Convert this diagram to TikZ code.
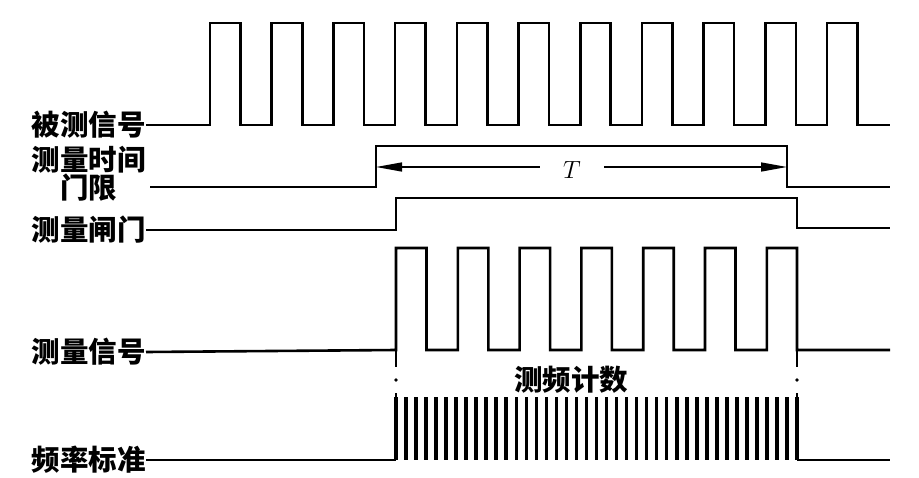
\documentclass[tikz,border=0pt]{standalone}
\usepackage{fontspec}
\newfontfamily\cjk{Noto Sans CJK SC}
\usetikzlibrary{arrows.meta,positioning}
\tikzset
{
    siglabel/.style = {anchor=east, inner sep=0pt, align=center, font=\cjk\bfseries\fontsize{28.5}{28}\selectfont},
    wave/.style     = {line width=2.6pt, line join=miter},
    gatemark/.style = {line width=2.2pt},
    tickbar/.style  = {line width=3.6pt},
    dimarrow/.style = {line width=1.4pt, -{Triangle[length=26pt,width=9pt]}}
}

\begin{document}
\begin{tikzpicture}[x=1pt,y=-1pt]
\useasboundingbox (0,0) rectangle (919,477);
\node [siglabel] at (146,125) (meas) {被测信号};
\node [siglabel] at (146,174) (limit) {测量时间\\门限};
\node [siglabel] at (146,230) (gate) {测量闸门};
\node [siglabel] at (146,352) (sig) {测量信号};
\node [siglabel] at (146,460) (std) {频率标准};
\node [font=\cjk\bfseries\fontsize{28.5}{28}\selectfont] at (571,380) (cnt) {测频计数};
\node [font=\bfseries\fontsize{28}{28}\selectfont, inner sep=0pt, minimum width=64pt] at (572,170) (tt) {$T$};
\coordinate (l0) at (150,187);
\coordinate (ta) at (376,167);
\coordinate (tb) at (787,167);
% measured signal
\draw [wave] (meas.east) -- (210,125)
    \foreach \k in {0,...,10} { -- ++(0,-102) -- ++(30.5,0) -- ++(0,102) -- ++(31.2,0) } -- (890,125);
% time limit and T
\draw [wave] (l0) -- (376,187) -- (376,146) -- (787,146) -- (787,187) -- (890,187);
\draw [dimarrow] (tt.west |- ta) -- (ta);
\draw [dimarrow] (tt.east |- tb) -- (tb);
% gate
\draw [wave] (gate.east) -- (396,230) -- (396,198) -- (797,198) -- (797,228) -- (890,228);
% gated signal
\draw [wave] (sig.east) -- (396,350)
    \foreach \k in {1,...,6} { -- ++(0,-102) -- ++(30.5,0) -- ++(0,102) -- ++(31.3,0) }
    -- ++(0,-102) -- (797,248) -- (797,350) -- (890,350);
\foreach \x in {396,797}
{
    \draw [gatemark] (\x,350) -- (\x,367);
    \fill (\x,380) circle (1.8pt);
    \draw [gatemark] (\x,393) -- (\x,460);
}
% reference clock
\draw [wave] (std.east) -- (396,460);
\draw [wave] (797,460) -- (890,460);
\foreach \i in {0,...,40}
    \draw [tickbar] (396+10.025*\i,397) -- ++(0,63);
\end{tikzpicture}
\end{document}
